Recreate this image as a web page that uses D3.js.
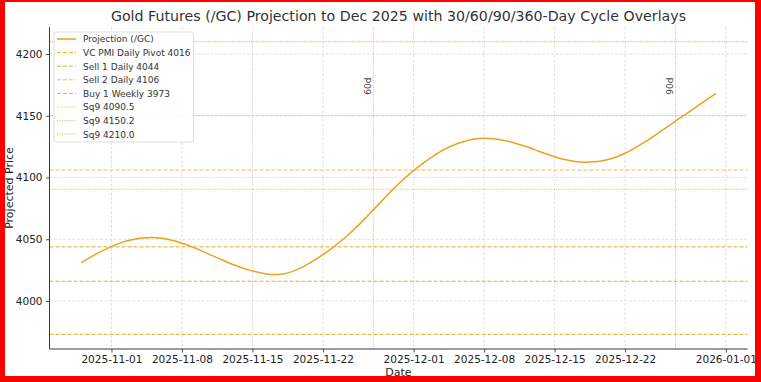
<!DOCTYPE html>
<html><head><meta charset="utf-8">
<script src="https://cdn.jsdelivr.net/npm/d3@7"></script>
<style>body{margin:0;background:#fff}svg{display:block;font-family:"DejaVu Sans",sans-serif}</style>
</head><body><svg id="c" width="761" height="382"></svg>
<script>
const startDate = "2025-10-29";
const projection = [4031.0,4035.8,4040.2,4044.0,4047.3,4049.6,4051.0,4051.4,4050.8,4049.2,4046.8,4043.8,4040.4,4036.8,4033.2,4029.8,4026.8,4024.4,4022.4,4021.4,4021.9,4024.0,4027.6,4032.3,4037.6,4043.5,4050.0,4057.3,4065.3,4073.8,4082.4,4090.8,4098.6,4105.6,4111.8,4117.5,4122.5,4126.3,4129.2,4131.1,4131.8,4131.3,4130.0,4128.0,4125.5,4122.6,4119.6,4116.8,4114.5,4113.0,4112.4,4112.7,4113.9,4116.2,4119.6,4124.0,4129.0,4134.4,4140.0,4145.6,4151.2,4156.8,4162.4,4168.0];
const levelNames = ["VC PMI Daily Pivot 4016","Sell 1 Daily 4044","Sell 2 Daily 4106","Buy 1 Weekly 3973","Sq9 4090.5","Sq9 4150.2","Sq9 4210.0"];
const levelValues = [4016,4044,4106,3973,4090.5,4150.2,4210.0];
const cycleLabels = ["60d","90d"];
const cycleDates = ["2025-11-27","2025-12-27"];
const xTickLabels = ["2025-11-01","2025-11-08","2025-11-15","2025-11-22","2025-12-01","2025-12-08","2025-12-15","2025-12-22","2026-01-01"];
const yTicks = [4000,4050,4100,4150,4200];

const parse = d3.utcParse("%Y-%m-%d");
const t0 = parse(startDate);
const data = projection.map((v,i)=>({d:d3.utcDay.offset(t0,i), v}));
const svg = d3.select("#c");
const L=49.5,R=747.5,T=27,B=349;
const xd = d3.extent(data,d=>d.d);
const span = xd[1]-xd[0];
const x = d3.scaleUtc().domain([new Date(+xd[0]-span*0.05), new Date(+xd[1]+span*0.05)]).range([L,R]);
const yMin = d3.min(levelValues), yMax = d3.max(levelValues), ys=yMax-yMin;
const y = d3.scaleLinear().domain([yMin-ys*0.05, yMax+ys*0.05]).range([B,T]);

const lineCol = "#e9a21d";
const g = svg.append("g");
g.selectAll(".gx").data(xTickLabels).join("line")
  .attr("x1",d=>x(parse(d))).attr("x2",d=>x(parse(d))).attr("y1",T).attr("y2",B)
  .attr("stroke","#d8d8d8").attr("stroke-width",0.8).attr("stroke-dasharray","3,1.6");
g.selectAll(".gy").data(yTicks).join("line")
  .attr("x1",L).attr("x2",R).attr("y1",d=>y(d)).attr("y2",d=>y(d))
  .attr("stroke","#d8d8d8").attr("stroke-width",0.8).attr("stroke-dasharray","3,1.6");

const levelStyle = [
 {c:"#f0a81e",o:1,da:"4,2",w:1},
 {c:"#f0b040",o:0.75,da:"4,2",w:1.5},
 {c:"#f0b040",o:0.85,da:"4,2",w:1},
 {c:"#f0a81e",o:1,da:"4,2",w:1},
 {c:"#f0b040",o:0.8,da:"1.2,1.2",w:1.2},
 {c:"#f0b040",o:0.7,da:"1.2,1.2",w:1.2},
 {c:"#f0b040",o:0.8,da:"1.2,1.2",w:1.2}
];
svg.append("g").selectAll("line").data(levelValues).join("line")
  .attr("x1",L).attr("x2",R).attr("y1",d=>y(d)).attr("y2",d=>y(d))
  .attr("stroke",(d,i)=>levelStyle[i].c).attr("stroke-opacity",(d,i)=>levelStyle[i].o)
  .attr("stroke-width",(d,i)=>levelStyle[i].w).attr("stroke-dasharray",(d,i)=>levelStyle[i].da);

const cg = svg.append("g");
cg.selectAll("line").data(cycleDates).join("line")
  .attr("x1",d=>x(parse(d))).attr("x2",d=>x(parse(d))).attr("y1",T).attr("y2",B)
  .attr("stroke","#f0b040").attr("stroke-opacity",0.8).attr("stroke-width",1).attr("stroke-dasharray","1.2,1.2");
cg.selectAll("text").data(cycleDates).join("text")
  .attr("transform",d=>`translate(${x(parse(d))-2.5},${y(4181)}) rotate(-90)`)
  .attr("text-anchor","end").attr("font-size",9).attr("fill","#444").text((d,i)=>cycleLabels[i]);

svg.append("path").datum(data).attr("fill","none").attr("stroke",lineCol).attr("stroke-width",1.5)
  .attr("d",d3.line().x(d=>x(d.d)).y(d=>y(d.v)).curve(d3.curveMonotoneX));

const ax = svg.append("g").attr("transform",`translate(0,${B})`)
  .call(d3.axisBottom(x).tickValues(xTickLabels.map(parse)).tickFormat(d3.utcFormat("%Y-%m-%d")).tickSize(3.5).tickPadding(3.5));
const ay = svg.append("g").attr("transform",`translate(${L},0)`)
  .call(d3.axisLeft(y).tickValues(yTicks).tickFormat(d3.format("d")).tickSize(3.5).tickPadding(3.5));
[ax,ay].forEach(a=>{a.select(".domain").remove();a.selectAll("text").attr("font-size",10.5).attr("fill","#222").attr("font-family","DejaVu Sans");a.selectAll("line").attr("stroke","#222").attr("stroke-width",0.8);});
svg.append("line").attr("x1",L).attr("x2",R).attr("y1",B).attr("y2",B).attr("stroke","#222").attr("stroke-width",0.9);
svg.append("line").attr("x1",L).attr("x2",L).attr("y1",T).attr("y2",B).attr("stroke","#222").attr("stroke-width",0.9);

svg.append("text").attr("x",(L+R)/2).attr("y",21).attr("text-anchor","middle").attr("font-size",14.2).attr("fill","#333")
  .text("Gold Futures (/GC) Projection to Dec 2025 with 30/60/90/360-Day Cycle Overlays");
svg.append("text").attr("x",(L+R)/2).attr("y",376).attr("text-anchor","middle").attr("font-size",11).attr("fill","#222").text("Date");
svg.append("text").attr("transform",`translate(13,${(T+B)/2}) rotate(-90)`).attr("text-anchor","middle").attr("font-size",11).attr("fill","#222").text("Projected Price");

const lg = svg.append("g").attr("transform","translate(54,32)");
lg.append("rect").attr("width",139.5).attr("height",110).attr("rx",2.5).attr("fill","#fff").attr("fill-opacity",0.85).attr("stroke","#d6d6d6").attr("stroke-width",0.8);
const legNames = ["Projection (/GC)"].concat(levelNames);
const legStyles = [{c:lineCol,o:1,da:null,w:1.5}].concat(levelStyle);
legNames.forEach((n,i)=>{
  const yy = 7 + i*13.6;
  lg.append("line").attr("x1",3).attr("x2",22).attr("y1",yy).attr("y2",yy)
    .attr("stroke",legStyles[i].c).attr("stroke-opacity",legStyles[i].o).attr("stroke-width",legStyles[i].w)
    .attr("stroke-dasharray",legStyles[i].da);
  lg.append("text").attr("x",29).attr("y",yy+3.3).attr("font-size",9).attr("fill","#333").text(n);
});

const bc="#ff0000";
svg.append("rect").attr("x",0).attr("y",0).attr("width",5).attr("height",382).attr("fill",bc);
svg.append("rect").attr("x",755).attr("y",0).attr("width",6).attr("height",382).attr("fill",bc);
svg.append("rect").attr("x",0).attr("y",376).attr("width",761).attr("height",6).attr("fill",bc);
svg.append("rect").attr("x",0).attr("y",0).attr("width",761).attr("height",2).attr("fill",bc);
</script></body></html>
